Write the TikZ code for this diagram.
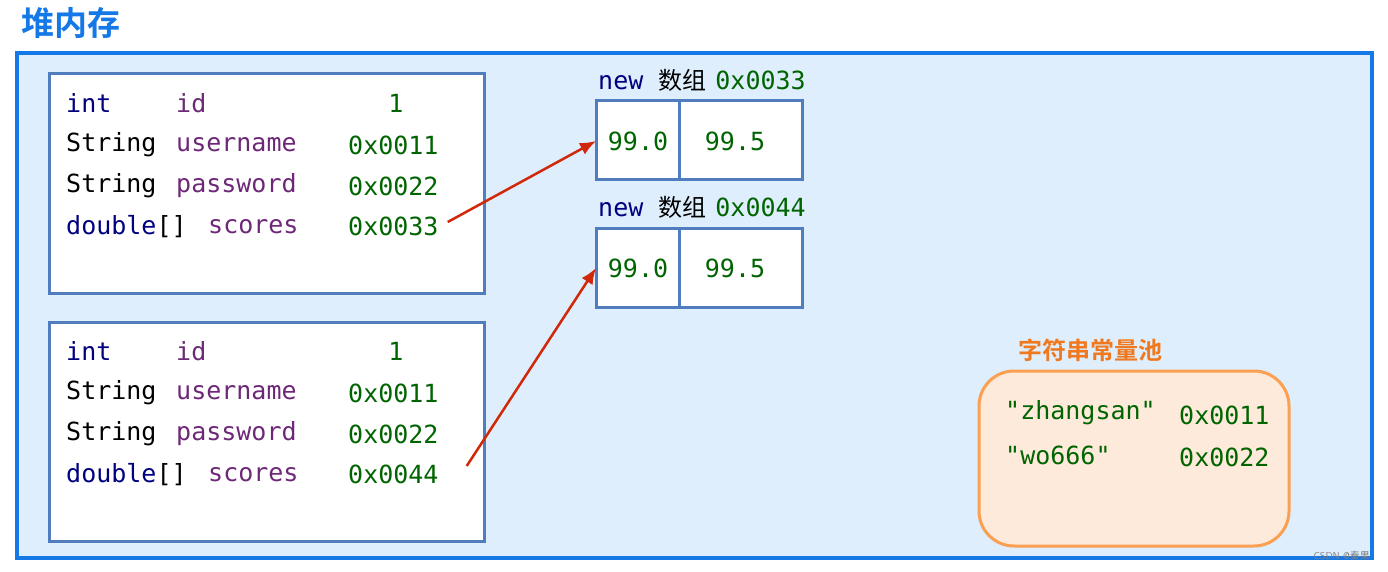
\documentclass[tikz,border=0pt]{standalone}
\usepackage{fontspec}
\usetikzlibrary{arrows.meta}
\setmonofont{DejaVu Sans Mono}
\newfontfamily\cjk{Noto Sans CJK SC}
\newfontfamily\cjkb{Noto Sans CJK SC Bold}
\definecolor{kw}{RGB}{0,0,128}
\definecolor{fld}{RGB}{110,40,120}
\definecolor{val}{RGB}{0,100,0}
\definecolor{heapb}{RGB}{20,120,230}
\definecolor{heapf}{RGB}{222,238,252}
\definecolor{objb}{RGB}{80,125,190}
\definecolor{arr}{RGB}{210,40,10}
\definecolor{poolb}{RGB}{250,160,80}
\definecolor{poolf}{RGB}{253,234,218}
\definecolor{poolt}{RGB}{240,120,30}
\begin{document}
\begin{tikzpicture}[x=1pt,y=-1pt,
  t/.style={anchor=west,inner sep=0,font=\ttfamily\fontsize{25}{25}\selectfont},
  tc/.style={inner sep=0,font=\ttfamily\fontsize{25}{25}\selectfont},
  objbox/.style={draw=objb,line width=3pt,fill=white},
  cell/.style={draw=objb,line width=3pt,fill=white},
  ptr/.style={draw=arr,line width=2.5pt,-{Latex[length=16pt,width=13pt]}}]
\useasboundingbox (0,0) rectangle (1388,572);
\fill[white] (0,0) rectangle (1388,572);
\node[anchor=west,inner sep=0,text=heapb,font=\cjkb\fontsize{33}{33}\selectfont] (title) at (21,23) {堆内存};
\draw[draw=heapb,fill=heapf,line width=4pt] (17,53) rectangle (1372,558);
% objects
\foreach \i/\y/\addr in {1/74/0x0033,2/322/0x0044}{
  \draw[objbox] (49,\y) rectangle (484,\y+219);
  \node[t,text=kw] at (66,\y+29) {int};
  \node[t,text=fld] at (176,\y+29) {id};
  \node[tc,text=val] at (396,\y+29) {1};
  \node[t] at (66,\y+71) {String};
  \node[t,text=fld] at (176,\y+71) {username};
  \node[t,text=val] at (348,\y+71) {0x0011};
  \node[t] at (66,\y+112) {String};
  \node[t,text=fld] at (176,\y+112) {password};
  \node[t,text=val] at (348,\y+112) {0x0022};
  \node[t,text=kw] at (66,\y+153) {double\textcolor{black}{[]}};
  \node[t,text=fld] at (208,\y+153) {scores};
  \node[t,text=val] (a\i) at (348,\y+152) {\addr};
}
% arrays
\foreach \i/\y/\addr in {1/101/0x0033,2/228/0x0044}{
  \node[anchor=west,inner sep=0] at (598,\y-21) {\ttfamily\fontsize{25}{25}\selectfont\textcolor{kw}{new} \cjk\fontsize{24}{24}\selectfont 数组\hspace{9pt}\ttfamily\fontsize{25}{25}\selectfont\textcolor{val}{\addr}};
  \draw[cell] (596,\y) rectangle (679,\y+79);
  \draw[cell] (679,\y) rectangle (802,\y+79);
  \coordinate (c\i) at (596,\y+40);
  \node[tc,text=val] at (638,\y+40) {99.0};
  \node[tc,text=val] at (735,\y+40) {99.5};
}
\draw[ptr] (a1.east) ++(9,-4) -- (c1);
\draw[ptr] (a2.east) ++(28,-8) -- (c2);
% pool
\node[anchor=west,inner sep=0,text=poolt,font=\cjkb\fontsize{24}{24}\selectfont] at (1018,350) {字符串常量池};
\draw[draw=poolb,fill=poolf,line width=3pt,rounded corners=35pt] (979,371) rectangle (1289,546);
\node[t,text=val] at (1005,413) {"zhangsan"};
\node[t,text=val] at (1179,415) {0x0011};
\node[t,text=val] at (1005,455) {"wo666"};
\node[t,text=val] at (1179,457) {0x0022};
\node[anchor=east,inner sep=0,text=gray,font=\sffamily\fontsize{10}{10}\selectfont] at (1370,556) {CSDN @\cjk 秦果};
\end{tikzpicture}
\end{document}
